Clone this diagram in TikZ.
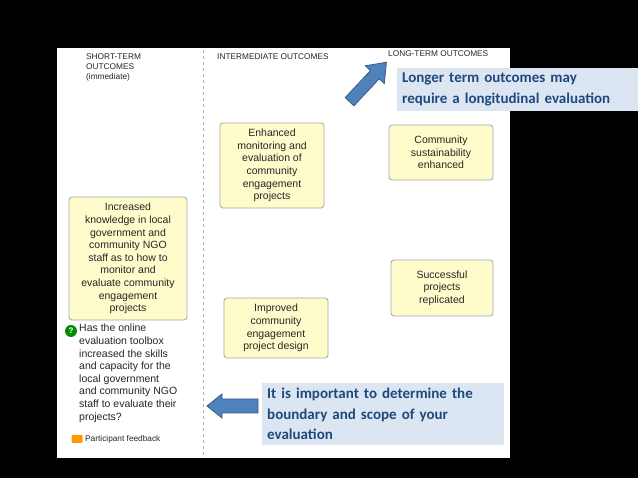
\documentclass[tikz,border=0pt]{standalone}
\usepackage{fontspec}
\setmainfont{Liberation Sans}
\newfontfamily\callfont{Carlito}[BoldFont={Carlito Bold}]
\definecolor{callbg}{RGB}{220,230,242}
\begin{document}
\begin{tikzpicture}[x=1pt,y=-1pt,
  outbox/.style={draw=black!35,line width=0.8pt,fill=yellow!20!white,rounded corners=3pt,align=center,font=\fontsize{10.5}{12.6}\selectfont,text=black!85,inner sep=0pt},
  hdr/.style={font=\fontsize{8.3}{10}\selectfont,text=black!85,align=left,anchor=north west,inner sep=0pt},
  callout/.style={fill=callbg,draw=none,align=left,font=\callfont\bfseries\fontsize{15}{20.5}\selectfont,text={rgb,255:red,31;green,73;blue,125},anchor=north west,inner sep=5pt,text width=#1},
  barrow/.style={fill={rgb,255:red,79;green,129;blue,189},draw={rgb,255:red,56;green,93;blue,138},line width=0.8pt}]
\fill[black] (0,0) rectangle (638,478);
\useasboundingbox (0,0) rectangle (638,478);
\fill[white] (57,48) rectangle (510,458);
\draw[black!30,dashed,line width=1pt] (203,50) -- (203,458);
\node[hdr] (h1) at (86,54) {SHORT-TERM\\OUTCOMES\\(immediate)};
\node[hdr] (h2) at (217,54) {INTERMEDIATE OUTCOMES};
\node[hdr] (h3) at (388,51) {LONG-TERM OUTCOMES};
\node[outbox,minimum width=104,minimum height=85] (b1) at (272,165.5) {Enhanced\\monitoring and\\evaluation of\\community\\engagement\\projects};
\node[outbox,minimum width=104,minimum height=55] (b2) at (441,152.5) {Community\\sustainability\\enhanced};
\node[outbox,minimum width=118,minimum height=123] (b3) at (128,258.5) {Increased\\knowledge in local\\government and\\community NGO\\staff as to how to\\monitor and\\evaluate community\\engagement\\projects};
\node[outbox,minimum width=102,minimum height=56] (b4) at (442,288) {Successful\\projects\\replicated};
\node[outbox,minimum width=104,minimum height=60] (b5) at (276,328) {Improved\\community\\engagement\\project design};
\node[circle,fill=green!55!black,text=white,inner sep=0pt,minimum size=12pt,font=\fontsize{8}{8}\selectfont\bfseries] (q) at (71,331) {?};
\node[anchor=north west,align=left,inner sep=0pt,font=\fontsize{10.5}{12.6}\selectfont,text=black!85] (qt) at (79,324) {Has the online\\evaluation toolbox\\increased the skills\\and capacity for the\\local government\\and community NGO\\staff to evaluate their\\projects?};
\node[fill=orange!80!yellow,rounded corners=1pt,minimum width=11pt,minimum height=8pt,inner sep=0pt] (fi) at (77,439) {};
\node[anchor=west,inner sep=0pt,font=\fontsize{8.3}{9}\selectfont,text=black!85] (ft) at (85,439) {Participant feedback};
\node[callout=232pt] (c1) at (397,68) {Longer term outcomes may\\require a longitudinal evaluation};
\node[callout=232pt] (c2) at (262,383) {It is important to determine the\\boundary and scope of your\\evaluation};
\draw[barrow] (207,406) -- (222,394) -- (222,399) -- (258,399) -- (258,413) -- (222,413) -- (222,418) -- cycle;
\begin{scope}[shift={(368,82)},rotate=47]
\draw[barrow] (27,0) -- (10,-13) -- (10,-6) -- (-27,-6) -- (-27,6) -- (10,6) -- (10,13) -- cycle;
\end{scope}
\end{tikzpicture}
\end{document}
